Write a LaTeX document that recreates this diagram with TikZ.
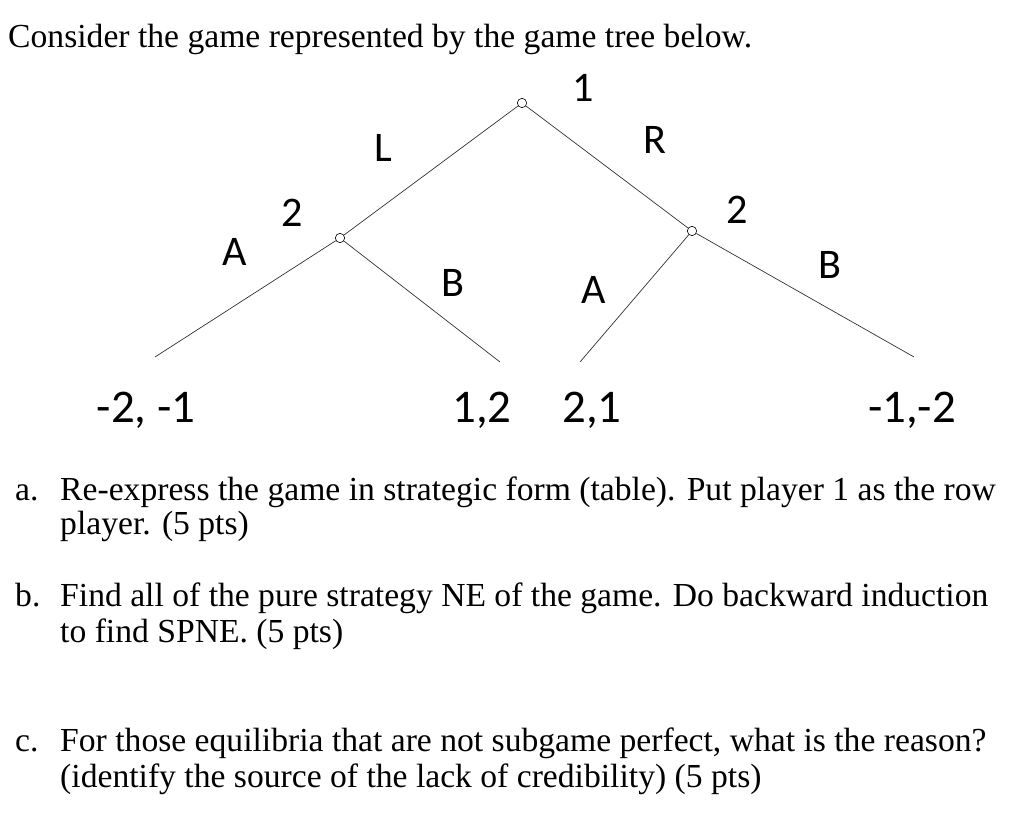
\documentclass[tikz,border=0pt]{standalone}
\usepackage{fontspec}
\setmainfont{Liberation Serif}
\newfontfamily\calib{Carlito}
\begin{document}
\begin{tikzpicture}[x=0.03cm,y=-0.03cm,
  txt/.style={anchor=base west,inner sep=0,font=\fontsize{28.7}{34}\selectfont},
  lab/.style={inner sep=0,font=\calib\fontsize{36}{40}\selectfont},
  pay/.style={inner sep=0,font=\calib\fontsize{40}{44}\selectfont},
  dn/.style={circle,draw,inner sep=0,minimum size=0.28cm,line width=0.5pt},
  edge/.style={line width=0.6pt,draw=black!80}]
\useasboundingbox (0,0) rectangle (1024,815);
\node[txt] (t0) at (8,48) {Consider the game represented by the game tree below.};
\node[dn] (r) at (522,103) {};
\node[dn] (l) at (340,238) {};
\node[dn] (rr) at (692,231) {};
\coordinate (ll1) at (155,357);
\coordinate (lr1) at (500,362);
\coordinate (rl1) at (580,362);
\coordinate (rr1) at (914,357);
\draw[edge] (r) -- (l);
\draw[edge] (r) -- (rr);
\draw[edge] (l) -- (ll1);
\draw[edge] (l) -- (lr1);
\draw[edge] (rr) -- (rl1);
\draw[edge] (rr) -- (rr1);
\node[lab] (n1) at (583,88) {1};
\node[lab] (nL) at (383,148) {L};
\node[lab] (nR) at (655,140) {R};
\node[lab] (n2a) at (292,213) {2};
\node[lab] (n2b) at (737,210) {2};
\node[lab] (a1) at (235,252) {A};
\node[lab] (b1) at (453,283) {B};
\node[lab] (a2) at (594,290) {A};
\node[lab] (b2) at (830,265) {B};
\node[pay] (p1) at (146,410) {-2, -1};
\node[pay] (p2) at (482,410) {1,2};
\node[pay] (p3) at (592,410) {2,1};
\node[pay] (p4) at (912,410) {-1,-2};
\node[txt] (a) at (15,500) {a.};
\node[txt] (a1t) at (60,500) {Re-express the game in strategic form (table). Put player 1 as the row};
\node[txt] (a2t) at (60,534) {player. (5 pts)};
\node[txt] (b) at (15,606) {b.};
\node[txt] (b1t) at (60,606) {Find all of the pure strategy NE of the game. Do backward induction};
\node[txt] (b2t) at (60,642) {to find SPNE. (5 pts)};
\node[txt] (c) at (15,751) {c.};
\node[txt] (c1t) at (60,751) {For those equilibria that are not subgame perfect, what is the reason?};
\node[txt] (c2t) at (60,787) {(identify the source of the lack of credibility) (5 pts)};
\end{tikzpicture}
\end{document}
